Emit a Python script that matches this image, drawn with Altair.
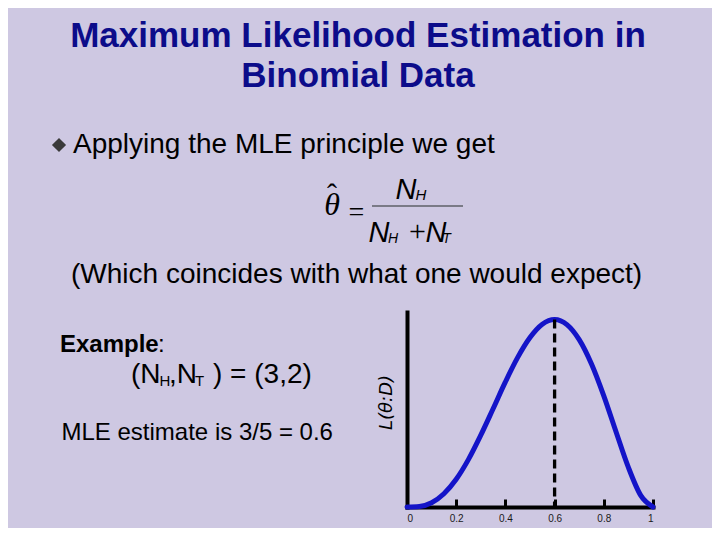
import altair as alt
import pandas as pd

# ---------------- data ----------------
TITLE_LINE_1 = "Maximum Likelihood Estimation in"
TITLE_LINE_2 = "Binomial Data"
BULLET_TEXT = "Applying the MLE principle we get"
NOTE_TEXT = "(Which coincides with what one would expect)"
EXAMPLE_WORD = "Example"
EXAMPLE_COLON = ":"
COUNTS_PARTS = ["(N", "H", ",N", "T", ") = (3,2)"]
ESTIMATE_TEXT = "MLE estimate is 3/5 = 0.6"
FORMULA_THETA = "θ"
FORMULA_HAT = "ˆ"
FORMULA_EQ = "="
FORMULA_N = "N"
FORMULA_SUB_H = "H"
FORMULA_SUB_T = "T"
FORMULA_PLUS = "+"
Y_TITLE = "L(θ:D)"

theta = [0.00, 0.05, 0.10, 0.15, 0.20, 0.25, 0.30, 0.35, 0.40, 0.45, 0.50,
         0.55, 0.60, 0.65, 0.70, 0.75, 0.80, 0.85, 0.90, 0.95, 1.00]
likelihood = [0.000, 0.003, 0.023, 0.071, 0.148, 0.254, 0.383, 0.524, 0.667,
              0.798, 0.904, 0.975, 1.000, 0.973, 0.893, 0.763, 0.593, 0.400,
              0.211, 0.062, 0.000]
mle_theta = [0.6]
mle_peak = [1.0]
x_label_values = [0, 0.2, 0.4, 0.6, 0.8, 1]
x_inner_ticks = [0.2, 0.4, 0.6, 0.8, 1]

# ---------------- styles ----------------
BG = "#CEC8E2"
NAVY = "#0C0C8A"
BLUE = "#1414C8"
SANS = "Liberation Sans"
SERIF = "Liberation Serif"
NARROW = "'Liberation Sans Narrow', 'Liberation Sans', sans-serif"

W, H = 246, 195
OX, OY = 407, 312  # page position of the plot origin


def label(text, px, py, size, align="left", weight="normal", style="normal",
          font=SANS, color="black"):
    return alt.Chart(pd.DataFrame({"t": [text]})).mark_text(
        align=align, baseline="alphabetic", fontSize=size, fontWeight=weight,
        fontStyle=style, font=font, color=color
    ).encode(text="t:N", x=alt.value(px - OX), y=alt.value(py - OY))


curve_df = pd.DataFrame({"theta": theta, "L": likelihood})
mle_df = pd.DataFrame({"theta": mle_theta, "L": mle_peak, "L0": [0.0]})

x_scale = alt.Scale(domain=[0, 1], nice=False, zero=False)
y_scale = alt.Scale(domain=[0, 1.04], nice=False)

y_axis = alt.Axis(title=Y_TITLE, ticks=False, labels=False, grid=False,
                  domainColor="black", domainWidth=4, domainCap="square",
                  titleFont="DejaVu Sans", titleFontStyle="italic",
                  titleFontWeight="normal", titleFontSize=18,
                  titleColor="black", titlePadding=12, titleY=90)

curve = alt.Chart(curve_df).mark_line(
    color=BLUE, strokeWidth=5, interpolate="monotone", strokeCap="round"
).encode(
    x=alt.X("theta:Q", scale=x_scale,
            axis=alt.Axis(values=x_label_values, format="~g", ticks=False,
                          tickSize=0, grid=False, title=None,
                          domainColor="black", domainWidth=4, domainCap="square",
                          labelFont=SANS, labelFontSize=10, labelColor="#1a1a1a",
                          labelPadding=6)),
    y=alt.Y("L:Q", scale=y_scale, axis=y_axis),
)

mle_rule = alt.Chart(mle_df).mark_rule(
    color="black", strokeWidth=3.3, strokeDash=[9, 5]
).encode(
    x=alt.X("theta:Q", scale=x_scale,
            axis=alt.Axis(orient="bottom", offset=-8, values=x_inner_ticks,
                          tickSize=8, tickWidth=3, tickColor="black",
                          labels=False, domain=False, grid=False, title=None)),
    y=alt.Y("L:Q", scale=y_scale, axis=y_axis),
    y2="L0:Q",
)

diamond = alt.Chart(pd.DataFrame({"t": [""]})).mark_point(
    shape="diamond", filled=True, size=200, color="#3A3A3A", opacity=1
).encode(x=alt.value(59 - OX), y=alt.value(145 - OY))

frac_line = alt.Chart(pd.DataFrame({"t": [""]})).mark_rule(
    color="#7A7A86", strokeWidth=1.8
).encode(x=alt.value(372 - OX), x2=alt.value(463 - OX), y=alt.value(206 - OY))

texts = [
    label(TITLE_LINE_1, 358, 47, 35, align="center", weight="bold", color=NAVY),
    label(TITLE_LINE_2, 358, 87, 35, align="center", weight="bold", color=NAVY),
    label(BULLET_TEXT, 73, 153, 28),
    label(NOTE_TEXT, 71, 283, 28),
    label(EXAMPLE_WORD, 60, 352, 24, weight="bold"),
    label(EXAMPLE_COLON, 158, 352, 24),
    label(COUNTS_PARTS[0], 131, 383, 28),
    label(COUNTS_PARTS[1], 159.5, 386, 15),
    label(COUNTS_PARTS[2], 169, 383, 28),
    label(COUNTS_PARTS[3], 195, 386, 15),
    label(COUNTS_PARTS[4], 213, 383, 28),
    label(ESTIMATE_TEXT, 61.5, 440, 24),
    # formula
    label(FORMULA_THETA, 332, 215, 32, align="center", style="italic", font=SERIF),
    label(FORMULA_HAT, 332, 204, 30, align="center", font=SERIF),
    label(FORMULA_EQ, 356.5, 221, 28, align="center", font=SERIF),
    label(FORMULA_N, 406, 199, 29, align="center", style="italic", font=NARROW),
    label(FORMULA_SUB_H, 421, 200, 15, align="center", style="italic", font=NARROW),
    label(FORMULA_N, 379, 242, 29, align="center", style="italic", font=NARROW),
    label(FORMULA_SUB_H, 393, 243, 14, align="center", style="italic", font=NARROW),
    label(FORMULA_PLUS, 417.5, 241, 30, align="center", font=SERIF),
    label(FORMULA_N, 436, 242, 29, align="center", style="italic", font=NARROW),
    label(FORMULA_SUB_T, 446.5, 243, 14, align="center", style="italic", font=NARROW),
]

chart = alt.layer(curve, mle_rule, diamond, frac_line, *texts).resolve_axis(
    x="independent"
).properties(
    width=W, height=H, background=BG,
    autosize=alt.AutoSizeParams(type="none"),
    padding={"left": 399, "top": 304, "right": 59, "bottom": 21},
).configure_view(stroke=None)

chart.save("out.html", embed_options={"renderer": "svg", "actions": False})
